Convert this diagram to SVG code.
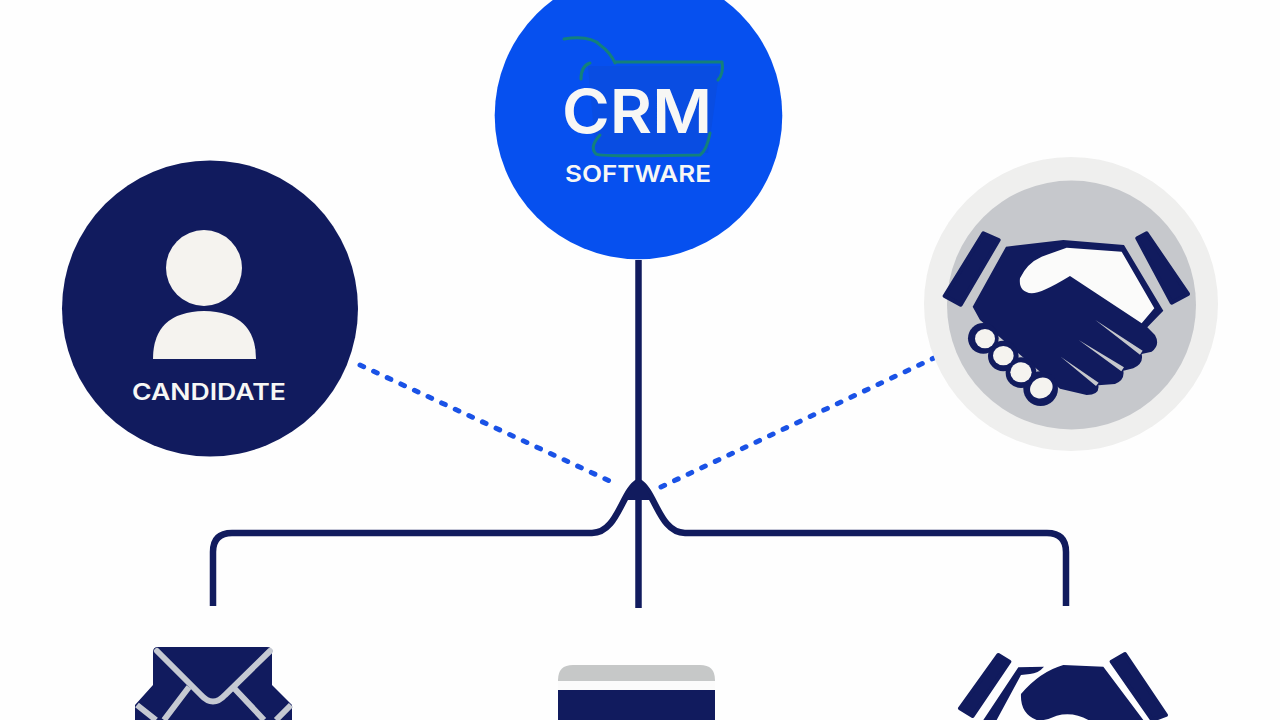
<svg xmlns="http://www.w3.org/2000/svg" width="1280" height="720" viewBox="0 0 1280 720">
<style>
.navy{fill:#111b5e}
.round{stroke:#111b5e;stroke-width:12;stroke-linejoin:round}
.wire{fill:none;stroke:#111b5e;stroke-width:6.5}
.dots{fill:none;stroke:#1a52e6;stroke-width:5;stroke-dasharray:4 11;stroke-linecap:round}
.cart{fill:none;stroke:#13807c;stroke-width:3;stroke-linecap:round;stroke-linejoin:round}
.light{fill:#f5f3ef}
.lbl{font-family:Inter,"Liberation Sans",sans-serif;font-weight:600;fill:#f7f7f5}
.gline{fill:none;stroke:#c5c9d2;stroke-width:6}
</style>
<rect width="1280" height="720" fill="#fefefe"/>
<g id="connectors">
<path class="wire" d="M638.500 260V608"/>
<path class="wire" d="M213 606V552Q213 533 232 533H592C618 533 622 490 638.500 482C655 490 659 533 685 533H1047Q1066 533 1066 552V606"/>
<path class="navy" d="M638.500 476L652 500H625Z"/>
<path class="dots" d="M360 365L614 483"/>
<path class="dots" d="M661 487L934 358"/>
</g>
<g id="crm-software">
<circle cx="638.500" cy="115.500" r="143.800" fill="#0650ef"/>
<path d="M588 66H720L708 153H596Z" fill="#0b49d6" opacity=".5"/>
<path class="cart" d="M564 39Q590 35 600 45Q610 52 615 63M615 62H722Q724 73 718 80M590 63Q581 66 581 79M600 135Q589 147 596 154Q600 157 700 155Q707 150 710 133"/>
<text class="lbl" x="562" y="133" font-size="61" textLength="150" lengthAdjust="spacingAndGlyphs">CRM</text>
<text class="lbl" x="565" y="182" font-size="23" textLength="146" lengthAdjust="spacingAndGlyphs">SOFTWARE</text>
</g>
<g id="candidate">
<circle cx="210" cy="308.500" r="148" class="navy"/>
<circle cx="204" cy="268" r="38" class="light"/>
<path class="light" d="M153 359Q153 312 204 311Q256 312 256 359Z"/>
<text class="lbl" x="132" y="400" font-size="22.500" textLength="154" lengthAdjust="spacingAndGlyphs">CANDIDATE</text>
</g>
<g id="partner">
<circle cx="1071" cy="304" r="147" fill="#efefee"/>
<circle cx="1071.500" cy="305" r="124.500" fill="#c6c8cc"/>
<g transform="translate(920 150) scale(.3333)">
<path class="navy round" d="M190 250L236 270 122 464 74 438ZM680 250L804 432 755 458 652 265Z"/>
<path class="navy" d="M158 470L258 290 430 270 612 285 730 482 682 532 705 555Q722 585 695 605L665 612Q672 640 640 655L610 662Q615 690 585 702L535 706Q540 735 500 735L420 716 330 640 180 510Z"/>
<path fill="#fbfbfa" d="M365 320Q320 340 300 385Q295 425 335 430Q365 430 450 378L665 520 703 475 605 305 440 293Z"/>
<path fill="#c6c8cc" d="M526 510L668 602 660 614ZM476 570L612 652 604 664ZM422 620L536 698 528 708Z"/>
<g class="navy">
<circle cx="190" cy="565" r="46"/><circle cx="250" cy="618" r="46"/><circle cx="303" cy="668" r="46"/><circle cx="362" cy="716" r="52"/>
</g>
<g class="light">
<ellipse cx="195" cy="566" rx="30" ry="29"/><ellipse cx="250" cy="617" rx="31" ry="29"/><ellipse cx="303" cy="667" rx="32" ry="30"/><ellipse cx="364" cy="714" rx="35" ry="30" transform="rotate(-30 364 714)"/>
</g>
</g>
</g>
<g id="mail">
<path class="navy" d="M153 652Q153 647 158 647H267Q272 647 272 652V685L292 705V720H135V705L153 685Z"/>
<path class="gline" stroke-linecap="round" d="M157 651L201 695Q213 708 225 695L270 651"/>
<path class="gline" d="M189 687L164 720M233 687L264 720M137 705L156 720M291 705L276 720"/>
</g>
<g id="card">
<path d="M558 690V680Q558 665 573 665H700Q715 665 715 680V690Z" fill="#c6c8c8"/>
<rect x="558" y="681" width="157" height="9" fill="#fbfbfb"/>
<rect x="558" y="690" width="157" height="30" class="navy"/>
</g>
<g id="agreement">
<g transform="translate(940 630) scale(.3333)">
<path class="navy round" d="M175 75L208 95 98 258 60 235ZM555 72L678 255 637 270 515 95Z"/>
<path class="navy" d="M235 112L312 110Q295 130 270 132L243 135 170 270H130Z"/>
<path class="navy" d="M243 192Q300 125 370 105L490 110 610 270H445Q400 245 350 257Q310 275 290 270Q240 250 243 192Z"/>
</g>
</g>
</svg>
